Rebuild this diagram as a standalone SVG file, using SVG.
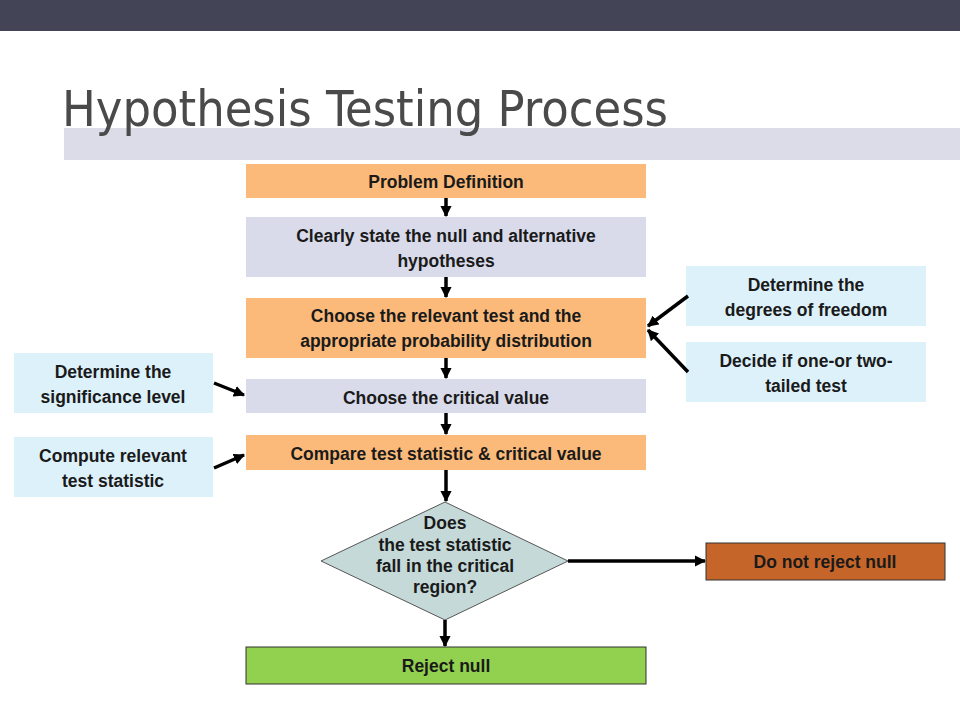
<svg xmlns="http://www.w3.org/2000/svg" width="960" height="720" viewBox="0 0 960 720">
<defs>
<marker id="ah" viewBox="0 0 10 10" refX="9" refY="5" markerWidth="3.2" markerHeight="3.2" orient="auto"><path d="M0,0L10,5L0,10z" fill="#000"/></marker>
<style>
.t{font-family:"Liberation Sans",Arial,sans-serif;font-weight:bold;font-size:17.5px;fill:#1a1a1a;text-anchor:middle}
.o{fill:#FBBA7A}.l{fill:#D9DAEA}.b{fill:#DDF1FA}
.c{stroke:#000;stroke-width:3.5;fill:none;marker-end:url(#ah)}
</style>
</defs>
<rect width="960" height="720" fill="#fff"/>
<rect width="960" height="31" fill="#434556"/>
<rect x="64" y="128" width="896" height="32" fill="#DCDCE8"/>
<text x="62" y="126" font-family="'DejaVu Sans Condensed','Open Sans',sans-serif" font-size="50" fill="#4a4a4a">Hypothesis Testing Process</text>
<g id="n1"><rect class="o" x="246" y="164" width="400" height="34"/><text class="t" x="446" y="188">Problem Definition</text></g>
<g id="n2"><rect class="l" x="246" y="217" width="400" height="60"/><text class="t" x="446" y="242">Clearly state the null and alternative</text><text class="t" x="446" y="267">hypotheses</text></g>
<g id="n3"><rect class="o" x="246" y="298" width="400" height="60"/><text class="t" x="446" y="322">Choose the relevant test and the</text><text class="t" x="446" y="347">appropriate probability distribution</text></g>
<g id="n4"><rect class="l" x="246" y="379" width="400" height="34"/><text class="t" x="446" y="404">Choose the critical value</text></g>
<g id="n5"><rect class="o" x="246" y="435" width="400" height="35"/><text class="t" x="446" y="460">Compare test statistic &amp; critical value</text></g>
<g id="n6"><polygon points="445,502 568,561 445,620 321,561" fill="#C5D9D9" stroke="#555" stroke-width="1"/>
<text class="t" x="445" y="529" font-size="16">Does</text><text class="t" x="445" y="551" font-size="16">the  test statistic</text><text class="t" x="445" y="572" font-size="16">fall in the critical</text><text class="t" x="445" y="593" font-size="16">region?</text></g>
<g id="n7"><rect x="246" y="647" width="400" height="37" fill="#92D050" stroke="#333" stroke-width="1"/><text class="t" x="446" y="672">Reject null</text></g>
<g id="n8"><rect x="706" y="543" width="239" height="37" fill="#C5652A" stroke="#333" stroke-width="1"/><text class="t" x="825" y="568">Do not reject null</text></g>
<g id="n9"><rect class="b" x="14" y="353" width="199" height="60"/><text class="t" x="113" y="378">Determine the</text><text class="t" x="113" y="403">significance level</text></g>
<g id="n10"><rect class="b" x="14" y="437" width="199" height="60"/><text class="t" x="113" y="462">Compute relevant</text><text class="t" x="113" y="487">test statistic</text></g>
<g id="n11"><rect class="b" x="686" y="266" width="240" height="60"/><text class="t" x="806" y="291">Determine the</text><text class="t" x="806" y="316">degrees of freedom</text></g>
<g id="n12"><rect class="b" x="686" y="342" width="240" height="60"/><text class="t" x="806" y="367">Decide if one-or two-</text><text class="t" x="806" y="392">tailed test</text></g>
<g id="connectors">
<line class="c" x1="446" y1="198" x2="446" y2="216"/>
<line class="c" x1="446" y1="277" x2="446" y2="297"/>
<line class="c" x1="446" y1="358" x2="446" y2="378"/>
<line class="c" x1="446" y1="413" x2="446" y2="434"/>
<line class="c" x1="446" y1="470" x2="446" y2="501"/>
<line class="c" x1="445" y1="620" x2="445" y2="646"/>
<line class="c" x1="568" y1="561" x2="705" y2="561"/>
<line class="c" x1="214" y1="383" x2="244" y2="395"/>
<line class="c" x1="214" y1="468" x2="244" y2="455"/>
<line class="c" x1="688" y1="296" x2="648" y2="326"/>
<line class="c" x1="688" y1="372" x2="648" y2="330"/>
</g>
</svg>
